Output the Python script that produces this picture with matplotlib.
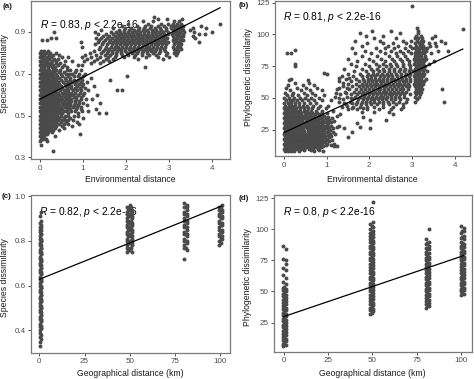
import matplotlib
matplotlib.use('Agg')
import matplotlib.pyplot as plt

plt.rcParams['font.family'] = ['Liberation Sans', 'DejaVu Sans']
plt.rcParams['mathtext.fontset'] = 'custom'
plt.rcParams['mathtext.rm'] = 'Liberation Sans'
plt.rcParams['mathtext.it'] = 'Liberation Sans:italic'

# ---------------- data ----------------
# panel a: rows of (species dissimilarity x100, [environmental distance x100, ...])
a_low = [
    (90, [32]), (87, [26, 36]), (86, [5, 17]), (85, [94]), (83, [98]),
    (81, [2, 9, 18]),
    (80, [0, 5, 13, 24, 38]),
    (79, [3, 10, 20, 31, 45]),
    (78, [0, 7, 15, 26, 52, 66]),
    (77, [4, 12, 21, 33, 42]),
    (76, [1, 8, 17, 28, 38, 58, 75]),
    (75, [3, 11, 19, 25, 36, 47]),
    (74, [0, 6, 14, 22, 30, 41, 55, 88]),
    (73, [3, 10, 18, 27, 35, 50, 63]),
    (72, [1, 7, 13, 21, 29, 38, 46, 70, 96]),
    (71, [4, 10, 17, 25, 33, 43, 55, 80]),
    (70, [0, 6, 13, 20, 28, 36, 48, 60, 74, 105]),
    (69, [3, 9, 16, 24, 31, 40, 52, 66, 88]),
    (68, [1, 7, 12, 19, 27, 34, 45, 57, 70, 95, 118]),
    (67, [4, 10, 16, 23, 30, 38, 49, 61, 78]),
    (66, [0, 6, 13, 19, 26, 33, 41, 53, 64, 84, 108]),
    (65, [3, 9, 15, 22, 29, 36, 44, 57, 68, 90]),
    (64, [1, 7, 12, 18, 25, 32, 39, 48, 60, 72, 98, 125]),
    (63, [4, 10, 15, 21, 28, 35, 42, 51, 63, 80]),
    (62, [0, 6, 12, 18, 24, 31, 38, 46, 55, 66, 86, 112]),
    (61, [3, 9, 15, 21, 27, 34, 41, 50, 59, 72, 92]),
    (60, [1, 6, 12, 17, 23, 30, 37, 44, 53, 62, 76, 100, 132]),
    (59, [4, 9, 14, 20, 26, 33, 40, 48, 57, 68, 84]),
    (58, [0, 6, 11, 17, 23, 29, 36, 43, 51, 60, 73, 95, 120]),
    (57, [3, 8, 14, 20, 26, 32, 39, 47, 55, 65, 80]),
    (56, [1, 6, 11, 17, 22, 28, 35, 42, 50, 58, 70, 90, 140]),
    (55, [4, 9, 14, 19, 25, 31, 38, 45, 53, 62, 78, 108]),
    (54, [0, 6, 11, 16, 22, 28, 34, 41, 49, 57, 68, 85]),
    (53, [3, 8, 13, 19, 25, 31, 37, 44, 52, 63, 95, 130]),
    (52, [1, 5, 10, 16, 21, 27, 33, 40, 47, 56, 72, 112]),
    (51, [3, 8, 13, 18, 24, 30, 36, 43, 51, 64, 88, 137, 153]),
    (50, [0, 5, 10, 15, 21, 27, 33, 40, 48, 58, 78]),
    (49, [2, 7, 12, 18, 24, 30, 37, 45, 55, 70, 100]),
    (48, [0, 5, 10, 15, 21, 27, 34, 42, 52, 66]),
    (47, [2, 7, 12, 17, 23, 30, 38, 48, 60, 85]),
    (46, [0, 4, 9, 14, 20, 26, 34, 44, 56]),
    (45, [2, 7, 11, 16, 22, 29, 38, 50, 75]),
    (44, [0, 5, 9, 14, 19, 26, 34, 55]),
    (43, [2, 6, 11, 16, 22, 30, 44]),
    (42, [0, 4, 8, 13, 19, 28]),
    (41, [2, 6, 11, 17, 92]),
    (40, [1, 5, 10, 35]),
    (39, [3, 8, 14]),
    (38, [1, 17]),
    (36, [2]),
    (33, [29]),
]
a_low_edge = [
    (72, [62, 84]), (70, [68, 90]), (69, [78, 100]), (67, [70, 88, 98]), (66, [74, 95]),
    (65, [62, 80, 100]), (64, [66, 86]), (63, [72, 92, 104]), (62, [61, 76, 96]),
    (61, [66, 82, 102]), (60, [70, 88]), (59, [62, 78, 96]), (58, [67, 84, 106]),
    (57, [72, 90]), (56, [64, 80, 100]), (55, [70, 88]), (54, [62, 76, 95]),
    (53, [70, 84]), (52, [62, 80, 98]), (50, [66, 88]), (48, [58, 76]), (46, [64, 90]),
]
a_high = [
    (97, [264]),
    (96, [275, 294, 330]),
    (95, [238, 262, 312, 322]),
    (94, [205, 250, 281, 296, 309, 318, 327, 418]),
    (93, [190, 226, 244, 258, 273, 288, 303, 311, 319, 326, 333, 374]),
    (92, [170, 198, 212, 229, 241, 255, 266, 279, 292, 305, 313, 321, 329, 356, 386]),
    (91, [141, 183, 195, 206, 218, 228, 238, 249, 259, 270, 281, 292, 308, 316, 324, 332, 349]),
    (90, [128, 165, 176, 186, 196, 205, 214, 223, 232, 241, 250, 259, 268, 277, 286, 296,
          310, 318, 326, 335, 357, 400]),
    (89, [134, 152, 170, 180, 189, 198, 207, 215, 224, 233, 242, 251, 260, 269, 278, 287,
          297, 307, 315, 323, 331, 370, 384]),
    (88, [146, 160, 174, 183, 192, 201, 210, 218, 227, 236, 245, 254, 263, 272, 281, 290,
          309, 317, 325, 333, 356]),
    (87, [130, 142, 156, 168, 178, 187, 196, 205, 214, 222, 231, 240, 249, 258, 267, 276,
          285, 294, 311, 319, 327, 360]),
    (86, [138, 150, 163, 174, 183, 192, 201, 210, 219, 228, 237, 246, 255, 264, 273, 282,
          291, 308, 316, 324, 332]),
    (85, [135, 147, 160, 170, 179, 188, 197, 206, 215, 224, 233, 242, 251, 260, 269, 278,
          287, 296, 310, 318, 326, 369]),
    (84, [128, 144, 156, 167, 176, 185, 194, 203, 212, 221, 230, 239, 248, 257, 266, 275,
          284, 293, 312, 320, 328]),
    (83, [140, 153, 164, 173, 182, 191, 200, 209, 218, 227, 236, 245, 254, 263, 272, 281,
          290, 309, 317, 325]),
    (82, [137, 150, 161, 171, 180, 189, 198, 207, 216, 225, 234, 243, 252, 261, 270, 279,
          288, 311, 319, 327]),
    (81, [125, 147, 158, 168, 178, 188, 198, 208, 218, 228, 238, 248, 258, 268, 278, 290,
          313, 321]),
    (80, [115, 142, 155, 166, 177, 189, 201, 213, 225, 237, 249, 262, 276, 294, 310, 318]),
    (79, [105, 130, 150, 163, 176, 190, 205, 220, 236, 252, 270, 292, 315]),
    (78, [98, 118, 140, 158, 175, 195, 218, 245, 275, 300]),
    (77, [110, 132, 152, 170, 228, 285]),
    (76, [102, 125, 145, 160]),
    (75, [118, 140]),
    (74, [97]),
    (73, [244]),
    (69, [202]),
    (67, [163]),
    (62, [179, 190]),
]
a_fit = (0.579, 0.1045)   # intercept, slope

# panel b: rows of (phylogenetic dissimilarity, [environmental distance x100, ...])
b_low = [
    (88, [27]), (85, [6, 16]), (77, [25]), (75, [27]), (70, [95]), (69, [100]),
    (65, [16]), (64, [12, 57]),
    (62, [26, 58]),
    (60, [10, 45, 70]),
    (58, [4, 30, 52, 78]),
    (56, [15, 40, 60, 88]),
    (54, [2, 22, 48, 66]),
    (52, [8, 18, 34, 55, 72, 95]),
    (50, [0, 12, 24, 38, 50, 64, 82]),
    (48, [5, 14, 22, 31, 43, 57, 70, 90, 110]),
    (46, [0, 9, 17, 26, 35, 46, 60, 76]),
    (44, [3, 11, 19, 27, 36, 45, 55, 68, 85, 104]),
    (42, [0, 7, 14, 21, 29, 37, 46, 56, 66, 80, 98]),
    (40, [3, 10, 17, 24, 31, 38, 46, 54, 63, 74, 90, 115]),
    (38, [0, 6, 13, 20, 27, 34, 41, 49, 57, 66, 77, 88, 102]),
    (37, [132]),
    (36, [3, 9, 16, 23, 30, 37, 44, 52, 61, 70, 81, 95, 125]),
    (34, [0, 6, 12, 19, 26, 33, 40, 47, 55, 64, 74, 84, 98, 112]),
    (32, [3, 9, 15, 22, 29, 36, 43, 51, 60, 69, 78, 88, 100, 118]),
    (30, [0, 6, 12, 18, 25, 32, 39, 46, 54, 62, 71, 80, 90, 104]),
    (28, [3, 9, 15, 21, 28, 35, 42, 50, 58, 67, 75, 84, 95, 110, 128]),
    (27, [124]),
    (26, [0, 6, 12, 18, 24, 31, 38, 45, 53, 64, 72, 80, 89, 100, 115, 140]),
    (24, [3, 9, 15, 21, 27, 34, 41, 48, 56, 66, 74, 82, 91, 104]),
    (23, [160]),
    (22, [0, 6, 12, 18, 24, 30, 37, 44, 51, 62, 70, 78, 86, 95, 108, 120]),
    (20, [3, 9, 15, 21, 27, 33, 40, 47, 54, 64, 72, 80, 88, 97, 110]),
    (19, [151]),
    (18, [0, 6, 12, 18, 24, 30, 36, 43, 50, 58, 66, 74, 82, 90, 100]),
    (16, [3, 9, 15, 21, 27, 33, 39, 46, 53, 61, 69, 77, 85, 94, 106]),
    (14, [0, 6, 12, 18, 24, 30, 36, 42, 49, 57, 65, 73, 81, 90, 102, 118]),
    (12, [3, 9, 15, 21, 27, 33, 40, 47, 55, 63, 71, 80, 92, 117, 124]),
    (10, [0, 6, 12, 18, 25, 32, 40, 48, 58, 68, 80]),
    (8, [2, 10, 16, 24, 36, 71, 92]),
]
b_low_edge = [
    (37, [62, 72, 84]), (35, [58, 68, 79, 90, 104]), (33, [59, 70, 80, 92, 106]),
    (31, [58, 66, 75, 85, 96, 110]), (29, [56, 63, 71, 80, 89, 100]),
    (27, [60, 69, 78, 87, 97, 106]), (25, [61, 70, 78, 86, 95, 108]),
    (23, [58, 66, 74, 83, 91, 100, 114]), (21, [58, 68, 76, 84, 92, 103]),
    (19, [55, 62, 70, 78, 86, 95, 106]), (17, [57, 65, 73, 81, 89, 98, 112]),
    (15, [53, 61, 69, 77, 86, 96]), (13, [51, 59, 67, 75, 84, 98, 110]),
    (11, [52, 62, 74, 86]), (9, [46, 64, 82]),
]
b_high = [
    (122, [299]), (105, [311]), (104, [419]),
    (103, [206, 250, 313]),
    (101, [178, 272, 315]),
    (99, [192, 231, 309, 320, 353]),
    (97, [210, 262, 307, 314, 323, 346]),
    (95, [166, 225, 280, 298, 312, 320, 327, 367]),
    (93, [195, 233, 255, 287, 308, 316, 324, 340, 354, 378]),
    (91, [182, 244, 268, 295, 310, 318, 326, 342, 357]),
    (89, [160, 215, 237, 259, 283, 301, 307, 314, 321, 329, 336]),
    (87, [190, 225, 251, 272, 290, 309, 317, 325, 333, 362, 384]),
    (85, [167, 205, 236, 262, 279, 297, 306, 313, 320, 328, 345]),
    (83, [182, 218, 246, 266, 284, 308, 315, 322, 330]),
    (81, [150, 199, 228, 253, 271, 288, 304, 311, 318, 326, 334]),
    (79, [172, 209, 237, 259, 276, 292, 307, 314, 321, 329, 351]),
    (77, [158, 190, 215, 233, 248, 263, 278, 293, 305, 312, 319, 327, 340]),
    (75, [170, 200, 222, 238, 252, 266, 280, 295, 309, 316, 323, 331]),
    (73, [140, 184, 205, 219, 232, 245, 258, 271, 283, 296, 306, 313, 320, 328]),
    (71, [165, 193, 209, 222, 234, 246, 258, 270, 281, 292, 302, 310, 317, 325, 336]),
    (69, [150, 178, 196, 208, 219, 230, 241, 252, 263, 274, 285, 296, 307, 314, 321, 329]),
    (67, [135, 162, 183, 194, 204, 214, 224, 234, 244, 254, 264, 274, 284, 294, 304, 311,
          318, 326]),
    (66, [128, 152]),
    (65, [145, 170, 186, 196, 205, 214, 223, 232, 241, 250, 259, 268, 277, 286, 295, 308,
          315, 322, 333]),
    (63, [128, 158, 176, 188, 197, 206, 215, 224, 233, 242, 251, 260, 269, 278, 287, 296,
          306, 313, 320, 328]),
    (62, [138]),
    (61, [150, 168, 182, 192, 201, 210, 219, 228, 237, 246, 255, 264, 273, 282, 291, 305,
          312, 319, 327]),
    (59, [138, 160, 175, 186, 195, 204, 213, 222, 231, 240, 249, 258, 267, 276, 285, 294,
          307, 314, 321]),
    (58, [130, 148]),
    (57, [125, 152, 170, 181, 190, 199, 208, 217, 226, 235, 244, 253, 262, 271, 280, 290,
          309, 316, 324, 370]),
    (55, [142, 163, 176, 186, 195, 204, 213, 222, 231, 240, 249, 258, 267, 276, 285, 306,
          313, 320]),
    (54, [122, 145]),
    (53, [132, 156, 171, 182, 191, 200, 209, 218, 227, 236, 245, 254, 263, 272, 282, 295,
          310, 318]),
    (51, [120, 147, 166, 178, 188, 197, 206, 215, 224, 233, 242, 251, 260, 270, 281, 308, 316]),
    (50, [130, 156]),
    (49, [138, 160, 174, 185, 194, 203, 212, 221, 230, 240, 250, 261, 273, 288, 311]),
    (47, [130, 155, 171, 182, 192, 202, 212, 222, 233, 244, 256, 270, 285, 306, 374]),
    (46, [140, 160]),
    (45, [145, 168, 180, 192, 205, 218, 232, 247, 263, 280]),
    (44, [148]),
    (43, [136, 162, 178, 194, 212, 232, 255, 278]),
    (42, [160, 185]),
    (41, [150, 172, 195, 222, 250, 275]),
    (39, [182, 210, 245]),
    (37, [255]),
    (35, [185]),
    (33, [202, 240]),
    (30, [172]),
    (27, [179]),
    (26, [202]),
]
b_fit = (22.7, 15.7)

# panel c: columns of (geographical distance km, [species dissimilarity x100, ...])
c_cols = [
    (0.2, [33, 35, 37, 39, 40, 42, 43, 45, 46, 48, 49, 51, 52, 54, 55, 57, 58, 60, 61, 63,
           64, 66, 67, 69, 70, 72, 73, 75, 76, 78, 79, 81, 82, 84, 85, 86, 88, 91]),
    (0.7, [36, 41, 44, 47, 50, 53, 56, 59, 62, 65, 68, 71, 74, 77, 80, 83, 86, 89]),
    (1.2, [38, 41, 42, 44, 45, 47, 48, 50, 51, 53, 54, 56, 57, 59, 60, 62, 63, 65, 66, 68,
           69, 71, 72, 74, 75, 77, 78, 80, 81, 83, 85, 87, 93]),
    (48.6, [75, 77, 78, 80, 81, 83, 84, 86, 87, 89, 90, 92, 93, 95]),
    (49.3, [76, 79, 82, 85, 88, 91, 94]),
    (50.0, [76, 77, 79, 80, 82, 83, 85, 86, 88, 89, 91, 92, 94, 95, 96]),
    (50.7, [77, 80, 83, 86, 89, 92, 95]),
    (51.4, [75, 78, 79, 81, 82, 84, 85, 87, 88, 90, 91, 93, 94]),
    (80.3, [72, 77, 78, 80, 81, 83, 84, 86, 87, 89, 90, 92, 93, 95, 97]),
    (81.0, [77, 80, 83, 86, 89, 92, 95]),
    (81.7, [76, 79, 80, 82, 83, 85, 86, 88, 89, 91, 92, 94, 95, 96]),
    (99.6, [78, 80, 82, 83, 85, 86, 88, 89, 91, 92, 94, 95]),
    (100.3, [79, 81, 84, 87, 90, 93, 95]),
    (101.0, [81, 82, 84, 85, 87, 88, 90, 91, 93, 94, 96]),
]
c_fit = (0.628, 0.00325)

# panel d: columns of (geographical distance km, [phylogenetic dissimilarity, ...])
d_cols = [
    (-0.3, [6, 8, 11, 13, 16, 18, 21, 23, 26, 28, 31, 33, 36, 38, 41, 43, 46, 48, 51, 53,
            58, 63, 69, 76, 87]),
    (0.3, [9, 14, 19, 24, 29, 34, 39, 44, 49, 54]),
    (0.9, [7, 10, 12, 15, 17, 20, 22, 25, 27, 30, 32, 35, 37, 40, 42, 45, 47, 50, 52, 56,
           61, 67, 72, 75, 84]),
    (48.8, [32, 35, 37, 40, 42, 45, 47, 50, 52, 55, 57, 60, 62, 65, 67, 70, 72, 75, 77, 80,
            82, 85, 87, 90, 92, 95, 97, 100, 104]),
    (49.6, [33, 38, 43, 48, 53, 58, 63, 68, 73, 78, 83, 88, 93, 98, 103]),
    (50.4, [34, 36, 39, 41, 44, 46, 49, 51, 54, 56, 59, 61, 64, 66, 69, 71, 74, 76, 79, 81,
            84, 86, 89, 91, 94, 96, 99, 102, 106, 122]),
    (80.3, [37, 40, 42, 45, 47, 50, 52, 55, 57, 60, 62, 65, 67, 70, 72, 75, 77, 80, 82, 85,
            88, 92]),
    (81.0, [39, 44, 49, 54, 59, 64, 69, 74, 79, 84, 89]),
    (81.7, [38, 41, 43, 46, 48, 51, 53, 56, 58, 61, 63, 66, 68, 71, 73, 76, 78, 81, 84, 87,
            90, 100]),
    (99.8, [47, 50, 52, 55, 57, 60, 62, 65, 67, 70, 72, 75, 77, 80, 82, 85, 87, 90, 93, 97, 103]),
    (100.6, [49, 54, 59, 64, 69, 74, 79, 84, 89, 94, 99]),
    (101.4, [48, 51, 53, 56, 58, 61, 63, 66, 68, 71, 73, 76, 78, 81, 83, 86, 88, 92, 95, 99, 101]),
]
d_fit = (29.8, 0.484)

stats = ['0.83', '0.81', '0.82', '0.8']
panel_tags = ['(a)', '(b)', '(c)', '(d)']


def rows_xy(rows, xk, yk):
    xs = [x * xk for y, r in rows for x in r]
    ys = [y * yk for y, r in rows for x in r]
    return xs, ys


def cols_xy(cols, xk, yk):
    xs = [x * xk for x, c in cols for y in c]
    ys = [y * yk for x, c in cols for y in c]
    return xs, ys


# ---------------- figure ----------------
W, H = 474, 379
fig = plt.figure(figsize=(W / 100, H / 100), dpi=100)


def px_axes(l, r, t, b):
    return fig.add_axes([l / W, 1 - b / H, (r - l) / W, (b - t) / H])


pt_col = '#4a4a4a'

ax_a = px_axes(31, 230, 0.6, 159)
ax_b = px_axes(275, 470, 0.6, 156)
ax_c = px_axes(31, 230, 195, 352.7)
ax_d = px_axes(274, 471.7, 195, 351.7)

xa1, ya1 = rows_xy(a_low + a_low_edge, 0.01, 0.01)
xa2, ya2 = rows_xy(a_high, 0.01, 0.01)
xb1, yb1 = rows_xy(b_low + b_low_edge, 0.01, 1)
xb2, yb2 = rows_xy(b_high, 0.01, 1)
xc, yc = cols_xy(c_cols, 1, 0.01)
xd, yd = cols_xy(d_cols, 1, 1)

panels = [
    (ax_a, xa1 + xa2, ya1 + ya2, a_fit),
    (ax_b, xb1 + xb2, yb1 + yb2, b_fit),
    (ax_c, xc, yc, c_fit),
    (ax_d, xd, yd, d_fit),
]

for ax, xs, ys, fit in panels:
    ax.scatter(xs, ys, s=8, color=pt_col, linewidths=0, zorder=2)
    x0, x1 = min(xs), max(xs)
    ax.plot([x0, x1], [fit[0] + fit[1] * x0, fit[0] + fit[1] * x1],
            color='black', linewidth=0.9, zorder=3)
    for sp in ax.spines.values():
        sp.set_color('#7a7a7a')
        sp.set_linewidth(0.9)
    ax.tick_params(direction='out', length=2.5, width=0.6, color='#333333',
                   pad=1.5, labelsize=5.8, labelcolor='#4d4d4d')

ax_a.set_xlim(-0.21, 4.41)
ax_a.set_ylim(0.292, 1.05)
ax_a.set_xticks([0, 1, 2, 3, 4])
ax_a.set_yticks([0.3, 0.5, 0.7, 0.9])
ax_a.set_yticklabels(['0.3', '0.5', '0.7', '0.9'])

ax_b.set_xlim(-0.21, 4.36)
ax_b.set_ylim(4.3, 126.6)
ax_b.set_xticks([0, 1, 2, 3, 4])
ax_b.set_yticks([25, 50, 75, 100, 125])

ax_c.set_xlim(-4.6, 105.5)
ax_c.set_ylim(0.30, 1.005)
ax_c.set_xticks([0, 25, 50, 75, 100])
ax_c.set_yticks([0.4, 0.6, 0.8, 1.0])
ax_c.set_yticklabels(['0.4', '0.6', '0.8', '1.0'])

ax_d.set_xlim(-5.6, 106)
ax_d.set_ylim(1.5, 127.7)
ax_d.set_xticks([0, 25, 50, 75, 100])
ax_d.set_yticks([25, 50, 75, 100, 125])

# R / p annotations (drawn under the points, as in the original)
ann_pos = [(0.045, 0.845), (0.04, 0.896), (0.042, 0.894), (0.046, 0.894)]
for (ax, _, _, _), r, (tx, ty) in zip(panels, stats, ann_pos):
    ax.text(tx, ty, r'$\it{R}$ = ' + r + r', $\it{p}$ < 2.2e-16', transform=ax.transAxes,
            fontsize=7.4, ha='left', va='center', color='black', zorder=1)


def ftext(x, y, s, **kw):
    fig.text(x / W, 1 - y / H, s, **kw)


# panel tags
for (x, y), tag in zip([(2.5, 6.5), (238.5, 5.5), (1.5, 196), (238.5, 198)], panel_tags):
    ftext(x, y, tag, fontsize=5.8, fontweight='bold', ha='left', va='center', color='#1a1a1a')

# axis titles
lab_kw = dict(fontsize=6.2, color='#1a1a1a', ha='center', va='center')
ftext(130.5, 179.5, 'Environmental distance', **lab_kw)
ftext(372.5, 179.5, 'Environmental distance', **lab_kw)
ftext(130.5, 373, 'Geographical distance (km)', **lab_kw)
ftext(372.8, 373, 'Geographical distance (km)', **lab_kw)
ftext(5, 74, 'Species dissimilarity', rotation=90, **lab_kw)
ftext(248.5, 77.5, 'Phylogenetic dissimilarity', rotation=90, **lab_kw)
ftext(5, 278, 'Species dissimilarity', rotation=90, **lab_kw)
ftext(247.5, 277, 'Phylogenetic dissimilarity', rotation=90, **lab_kw)

fig.savefig('out.png', dpi=100, facecolor='white')
